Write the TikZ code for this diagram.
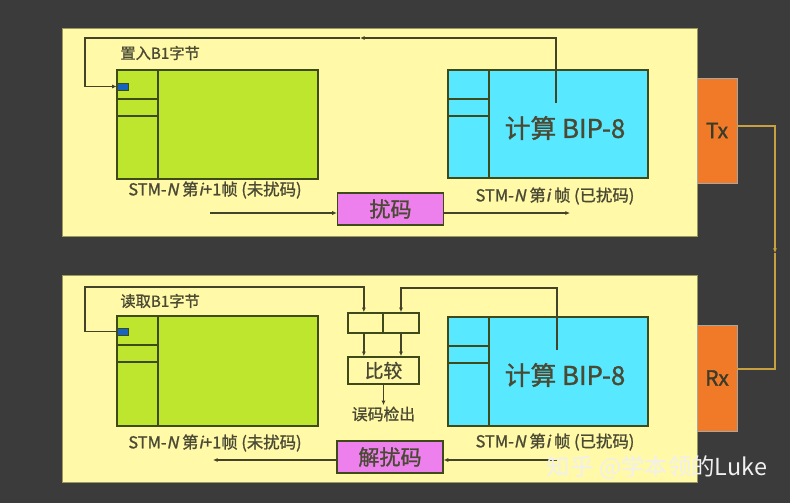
\documentclass[tikz,border=0pt]{standalone}
\usepackage{fontspec}
\setmainfont{Noto Sans CJK SC}[ItalicFont=Noto Sans CJK SC, ItalicFeatures={FakeSlant=0.2},
	BoldFont=Noto Sans CJK SC, BoldFeatures={FakeBold=1.2},
	BoldItalicFont=Noto Sans CJK SC, BoldItalicFeatures={FakeBold=1.2,FakeSlant=0.2}]
\usetikzlibrary{arrows.meta}
\definecolor{bgdark}{HTML}{3B3B3B}
\definecolor{panelyellow}{HTML}{FFF9A8}
\definecolor{panelline}{HTML}{9A9A60}
\definecolor{framegreen}{HTML}{BFE62E}
\definecolor{framecyan}{HTML}{58E8FF}
\definecolor{frameline}{HTML}{3E4A1A}
\definecolor{scrpurple}{HTML}{EE80EE}
\definecolor{portorange}{HTML}{F07A28}
\definecolor{wireline}{HTML}{43432A}
\definecolor{goldline}{HTML}{C8A040}
\definecolor{b1blue}{HTML}{1664C0}
\definecolor{txtgrey}{HTML}{4A4A34}

\begin{document}
\begin{tikzpicture}[x=0.03cm,y=-0.03cm,>={Latex[length=4pt,width=3.5pt]},
	panel/.style={draw=panelline,fill=panelyellow,line width=0.8pt,inner sep=0,minimum width=19.05cm},
	frame/.style={draw=frameline,line width=1.3pt,inner sep=0,minimum width=6cm},
	port/.style={draw=gray!70,fill=portorange,line width=0.8pt,inner sep=0,minimum width=1.2cm,
		text=txtgrey!80!black,font=\fontsize{18}{20}\selectfont\bfseries},
	scr/.style={draw=frameline,fill=scrpurple,line width=1.3pt,inner sep=0,minimum width=3.17cm,
		minimum height=0.96cm,text=txtgrey,font=\fontsize{18}{20}\selectfont\bfseries},
	reg/.style={draw=frameline,line width=1.3pt,inner sep=0,minimum width=1.065cm,minimum height=0.6cm},
	b1/.style={draw=frameline,fill=b1blue,line width=0.5pt,inner sep=0,minimum width=0.33cm,minimum height=0.21cm},
	lbl/.style={text=txtgrey,inner sep=1pt,font=\fontsize{14}{16}\selectfont\bfseries},
	wire/.style={draw=wireline,line width=1.3pt},
	goldwire/.style={draw=goldline,line width=1.4pt}]
	\fill[bgdark] (0,0) rectangle (790,503);
	\useasboundingbox (0,0) rectangle (790,503);

	% panels and ports
	\node[panel,minimum height=6.24cm] (txpanel) at (379.5,132) {};
	\node[panel,minimum height=6.21cm] (rxpanel) at (379.5,378.5) {};
	\node[port,minimum height=3.15cm] (tx) at (717,130.5) {Tx};
	\node[port,minimum height=3.18cm] (rx) at (717,378) {Rx};

	% STM-N frames
	\node[frame,fill=framegreen,minimum width=6.03cm,minimum height=3.27cm] (frT) at (217.5,124.5) {};
	\node[frame,fill=framecyan,minimum height=3.24cm] (bipT) at (548,124) {};
	\node[frame,fill=framegreen,minimum width=6.03cm,minimum height=3.3cm] (frB) at (217.5,371) {};
	\node[frame,fill=framecyan,minimum height=3.27cm] (bipB) at (548,371.5) {};
	\foreach \f in {frT,frB,bipT,bipB} {
		\draw[draw=frameline,line width=1.3pt] (\f.north west) ++(42,0) coordinate (col) -- (col |- \f.south);
		\draw[draw=frameline,line width=1.3pt] (\f.north west) ++(0,30) -- ++(42,0);
		\draw[draw=frameline,line width=1.3pt] (\f.north west) ++(0,47) -- ++(42,0);
	}
	\node[b1] (b1T) at (122.5,86.5) {};
	\node[b1] (b1B) at (122.5,331.5) {};

	\node[text=txtgrey,font=\fontsize{22}{24}\selectfont\bfseries] (calcT) at (565,128) {计算 BIP-8};
	\node[text=txtgrey,font=\fontsize{22}{24}\selectfont\bfseries] (calcB) at (565,375) {计算 BIP-8};

	% labels
	\node[lbl,anchor=west,font=\fontsize{13}{15}\selectfont\bfseries] (putB1) at (119,53) {置入B1字节};
	\node[lbl,anchor=west,font=\fontsize{13}{15}\selectfont\bfseries] (getB1) at (119,301) {读取B1字节};
	\node[lbl] (capTa) at (215,190) {STM-\textit{N} 第\textit{i}+1帧 (未扰码)};
	\node[lbl] (capTb) at (555,196) {STM-\textit{N} 第\textit{i} 帧 (已扰码)};
	\node[lbl] (capBa) at (215,443) {STM-\textit{N} 第\textit{i}+1帧 (未扰码)};
	\node[lbl] (capBb) at (555,442) {STM-\textit{N} 第\textit{i} 帧 (已扰码)};

	% scrambler / descrambler
	\node[scr] (scrT) at (390.5,209) {扰码};
	\node[scr] (scrB) at (390,457) {解扰码};
	\coordinate (inT) at (210,213);
	\coordinate (outT) at (570,213);
	\coordinate (inB) at (557,460);
	\coordinate (outB) at (213,460);
	\draw[wire,->] (inT) -- (inT -| scrT.west);
	\draw[wire,->] (outT -| scrT.east) -- (outT);
	\draw[wire,->] (inB) -- (inB -| scrB.east);
	\draw[wire,->] (outB -| scrB.west) -- (outB);

	% B1 insertion loop
	\coordinate (srcT) at (556,103);
	\coordinate (midT) at (360,38);
	\coordinate (lpT) at (85,86.5);
	\draw[wire,->] (srcT) |- (midT);
	\draw[wire,->] (midT) -| (lpT) -- (b1T.west);

	% comparison
	\node[reg] (regA) at (365.5,323) {};
	\node[reg] (regB) at (401,323) {};
	\node[reg,minimum width=2.13cm,minimum height=0.81cm,text=txtgrey,font=\fontsize{16}{18}\selectfont\bfseries] (cmp) at (383.5,370.5) {比较};
	\node[lbl,font=\fontsize{13.5}{15}\selectfont\bfseries] (errout) at (383.5,414) {误码检出};
	\coordinate (lpB) at (85,287);
	\coordinate (srcB) at (557,350);
	\draw[wire,->] (b1B.west) -| (lpB) -| ([xshift=-0.05cm]regA.north);
	\draw[wire,->] (srcB) |- (288,288 -| regB.north) -- (regB.north);
	\draw[wire,->] ([xshift=-0.05cm]regA.south) -- ([xshift=-0.05cm]regA.south |- cmp.north);
	\draw[wire,->] (regB.south) -- (regB.south |- cmp.north);
	\draw[wire,->] (cmp.south) -- (errout.north);

	% line Tx -> Rx
	\coordinate (tap) at (775,253);
	\draw[goldwire,->] ([yshift=0.135cm]tx.east) -| (tap);
	\draw[goldwire] (tap) |- ([yshift=0.27cm]rx.east);

	\node[text=white!88!gray,font=\fontsize{20}{22}\selectfont] (mark) at (657,468) {知乎 @学本领的Luke};
\end{tikzpicture}
\end{document}
